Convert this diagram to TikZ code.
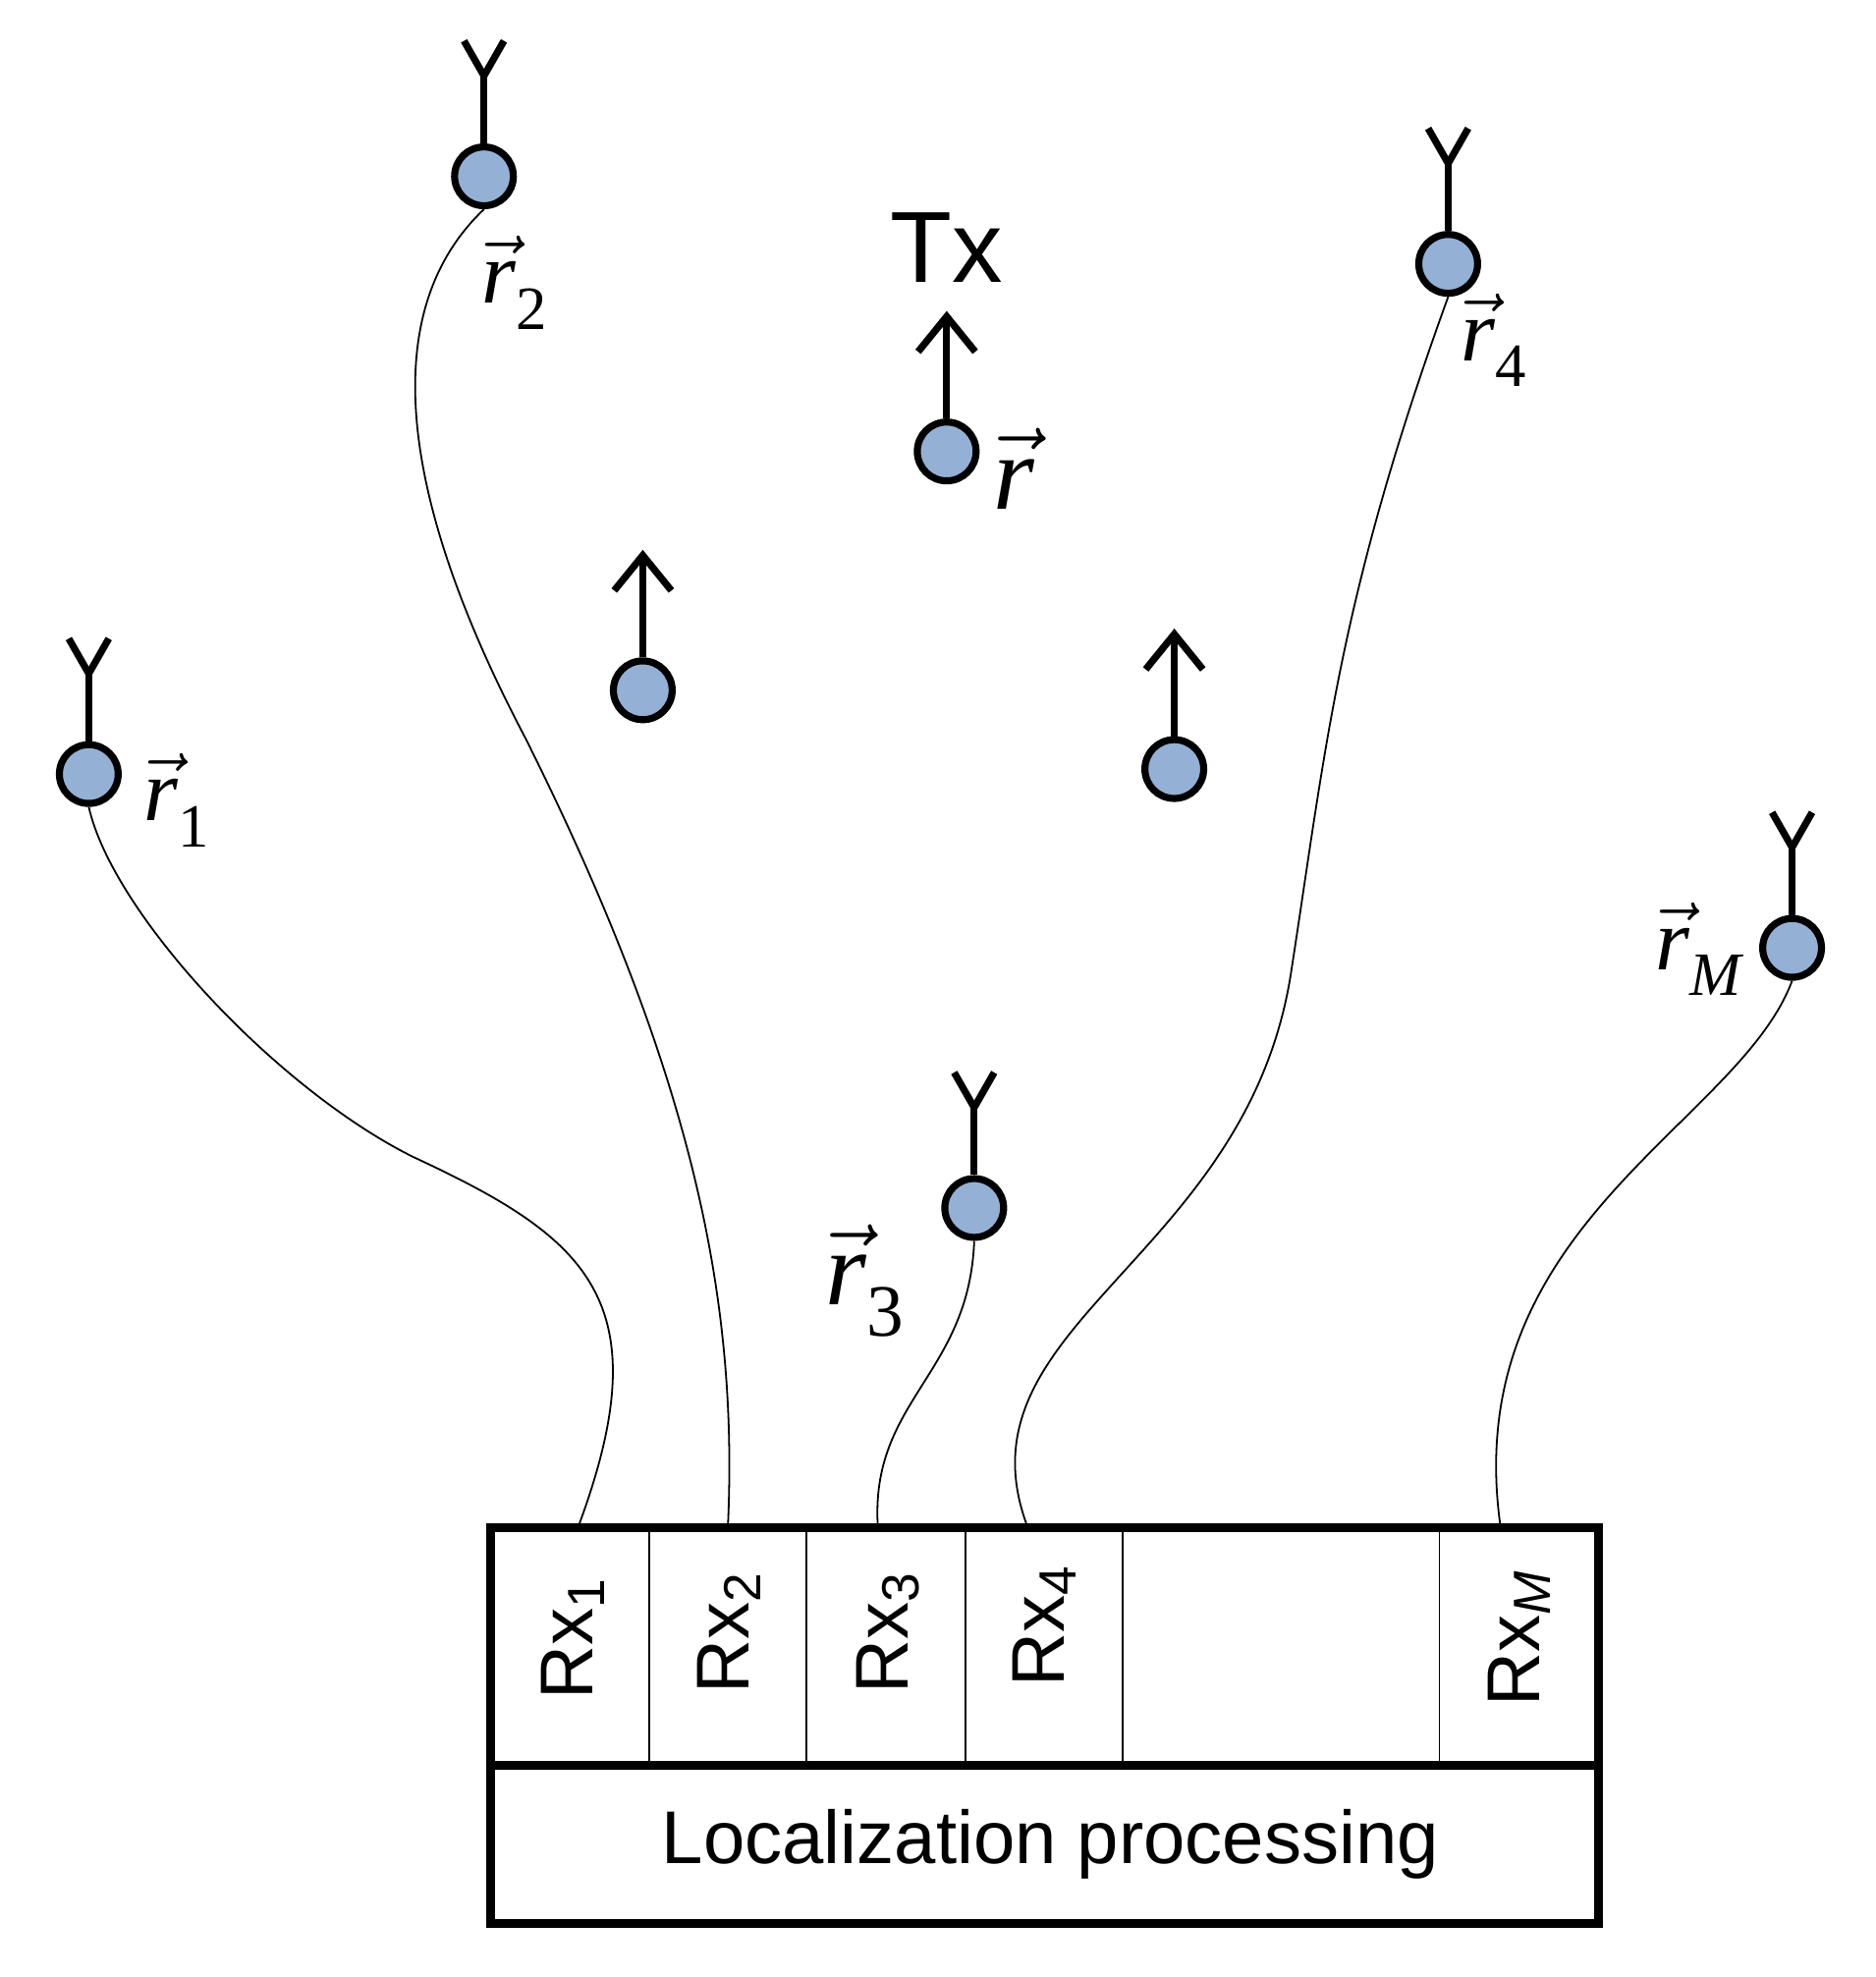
\documentclass[tikz,border=0pt]{standalone}
\usepackage{fontspec}
\setmainfont{Liberation Serif}
\newfontfamily\sans{Liberation Sans}
\usetikzlibrary{positioning, arrows.meta}
\definecolor{nodeblue}{RGB}{149,176,213}
\tikzset{
  station/.style={circle, draw=black, fill=nodeblue, line width=1.6pt, minimum size=0.47cm, inner sep=0pt},
  stem/.style={line width=1.6pt},
  cable/.style={thin},
  rxlabel/.style={font=\sans\fontsize{17}{17}\selectfont, rotate=90},
  vlabel/.style={font=\fontsize{20}{20}\selectfont}
}
\newcommand{\antenna}[1]{%
  \draw[stem] (#1.north) -- ++(0,-54) coordinate (#1top);
  \draw[stem] (#1top) -- ++(-16,-28);
  \draw[stem] (#1top) -- ++(16,-28);}
\newcommand{\pos}[1]{$\vec{\mbox{\itshape r}}$\raisebox{-0.3ex}{\textsubscript{#1}}}
\begin{document}
\begin{tikzpicture}[x=0.01cm, y=-0.01cm]
        \useasboundingbox (0,0) rectangle (1500,1581);

        % Receivers
        \node[station] (rx1) at (71,619) {};
        \node[station] (rx2) at (387,141) {};
        \node[station] (rx3) at (779,966) {};
        \node[station] (rx4) at (1158,211) {};
        \node[station] (rxM) at (1433,758) {};
        \foreach \n in {rx1,rx2,rx3,rx4,rxM} {\antenna{\n}}

        % Transmitters
        \node[station] (tx) at (757,361) {};
        \node[station] (txa) at (514,552) {};
        \node[station] (txb) at (939,615) {};
        \foreach \n in {tx,txa,txb}
          {\draw[stem, -{Straight Barb[length=8pt,width=13pt,line width=1.6pt]}] (\n.north) -- ++(0,-86);}
        \node[font=\sans\fontsize{23}{23}\selectfont] (txlabel) at (757,198) {Tx};

        % Position labels
        \node[vlabel] at (142,640) {\pos{1}};
        \node[vlabel] at (412,226) {\pos{2}};
        \node[font=\fontsize{24}{24}\selectfont] at (692,1024) {\pos{3}};
        \node[vlabel] at (1195,272) {\pos{4}};
        \node[vlabel] at (1359,759) {\pos{\itshape M}};
        \node[font=\fontsize{24}{24}\selectfont] at (812,387) {\pos{}};

        % Processing box
        \draw[line width=2pt] (392,1222) rectangle (1278,1538);
        \draw[line width=2pt] (392,1412) -- (1278,1412);
        \foreach \x in {519,645,772,898,1151} {\draw (\x,1222) -- (\x,1412);}
        \coordinate (p1) at (462,1222);
        \coordinate (p2) at (582,1222);
        \coordinate (p3) at (702,1222);
        \coordinate (p4) at (822,1222);
        \coordinate (pM) at (1200,1222);
        \node[rxlabel] at (458,1310) {Rx\textsubscript{1}};
        \node[rxlabel] at (583,1305) {Rx\textsubscript{2}};
        \node[rxlabel] at (710,1305) {Rx\textsubscript{3}};
        \node[rxlabel] at (835,1300) {Rx\textsubscript{4}};
        \node[rxlabel] at (1215,1310) {Rx\textsubscript{\textit{M}}};
        \node[font=\sans\fontsize{17}{17}\selectfont] (proc) at (840,1475) {Localization processing};

        % Cables
        \draw[cable] (rx1.south) .. controls (90,730) and (220,870) .. (330,925)
          .. controls (470,990) and (530,1040) .. (p1);
        \draw[cable] (rx2.south) .. controls (300,250) and (320,400) .. (420,590)
          .. controls (560,870) and (590,1050) .. (p2);
        \draw[cable] (rx3.south) .. controls (775,1100) and (695,1120) .. (p3);
        \draw[cable] (rx4.south) .. controls (1070,480) and (1060,600) .. (1032,780)
          .. controls (995,1010) and (760,1060) .. (p4);
        \draw[cable] (rxM.south) .. controls (1390,900) and (1165,980) .. (pM);
\end{tikzpicture}
\end{document}
